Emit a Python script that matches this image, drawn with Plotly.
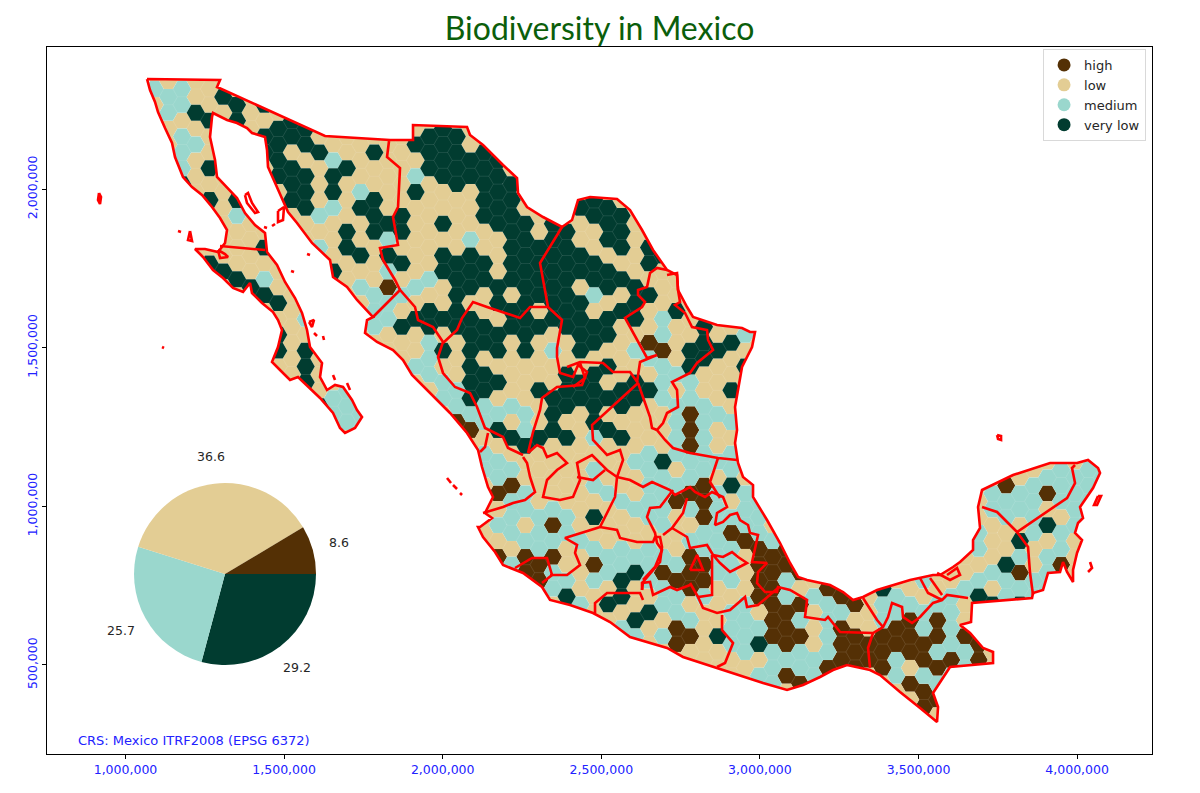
import math
import plotly.graph_objects as go

# hex cells per class: column -> rows (grid of 50 km hexagons), low is everything else on land
VERY_LOW = {1:[6], 2:[1], 3:[2,5,7,11], 4:[0,11], 5:[1,2,7,12], 6:[12], 7:[1,3,4,10,13], 8:[2,3,4,5,13,15,16],
    9:[2,3,5,6,7], 10:[2,3,5,6,7,16,17,18], 11:[4,20], 12:[5,6,11], 13:[5,9,10], 14:[7,10], 15:[4,7,8,9], 16:[8,10],
    17:[8,9,11,15], 18:[3,6,14], 19:[3,4,5,14,15], 20:[2,3,4,5,8,10,11,14,16], 21:[3,4,5,6,11,12,13,14,15],
    22:[4,5,10,11,12,14,15,16,17,18,19], 23:[4,5,6,7,8,11,12,15,16,18,19], 24:[4,5,6,7,8,12,13,15,16,18,21],
    25:[6,7,8,9,10,11,12,14,15,22], 26:[8,9,10,11,12,13,14,15,16,22], 27:[10,11,12,13,15,19,22],
    28:[8,9,10,11,12,13,14,19,20,21], 29:[9,10,11,12,13,14,15,18,19,20,22,32], 30:[7,10,11,13,14,15,16,18,19],
    31:[7,8,11,12,15,16,18,19,20,21,27], 32:[7,8,9,11,12,14,15,17,19,21,32], 33:[8,9,10,12,14,19,20,22,31,32],
    34:[12,13,14,18,19,30,33], 35:[10,11,13,19,33], 36:[10,23], 37:[14], 38:[16,17], 39:[15,16,17], 40:[16,34],
    41:[16,19,25], 42:[17], 43:[35], 52:[31], 59:[32], 60:[32], 61:[30], 62:[28,32], 64:[27]}
MEDIUM = {-1:[0], 0:[0,1], 1:[0,1,3,4,5], 2:[3], 5:[8], 7:[12], 10:[14], 11:[8,10], 12:[4,7,19,20], 13:[19,20,21],
    14:[6,12,20,21], 15:[13,14,15], 16:[9,11,13,14], 17:[13], 18:[5,12,17], 19:[12,16,17,18], 20:[18,19], 21:[19,20],
    22:[9,20], 23:[20,21,23,24], 24:[20,23,24,27], 25:[20,24,26,27,28,30], 26:[20,21,25,26,28], 27:[27,28,29],
    28:[16,26,28,30,31], 29:[27,28,31], 30:[28,32], 31:[13,22,24,25,29,31], 32:[25,29,30], 33:[26,29,30,34],
    34:[16,23,26,29,34], 35:[17,23,24,25,26,27,29,30,31], 36:[14,15,17,18,19,24,25,26,27,29,31,32,34],
    37:[18,20,21,22,23,25,30,32,33], 38:[18,19,23,24,26,28,33], 39:[20,21,22,23,24,28,29,32],
    40:[20,23,25,26,27,28,29,30], 41:[21,23,24,27,29,30,31,33,34,35], 42:[15,25,26,27,32,33,34,35],
    43:[24,25,26,27,28,34,37], 44:[28,35,36,37], 45:[31,32,36], 46:[33,35,36], 47:[32,36,37], 48:[32,33,34,35],
    49:[33], 52:[32,33], 53:[32,33,36,37], 54:[32], 55:[31,33,34,37], 56:[32,35,37], 57:[32,33,34,35,37],
    58:[31,35,36], 59:[28,29,31,34,37], 60:[25,26,30], 61:[26,27,31,32], 62:[25,26,29,31], 63:[25,26,27,28,31,32],
    64:[24,29,30,31], 65:[24,25,26,28,29,31], 66:[24,25,26,27], 67:[24,25,26,27], 68:[24,25,26]}
HIGH = {16:[12], 21:[21], 22:[21], 24:[25,29], 25:[25], 26:[29,30], 27:[30,31], 28:[27,29], 31:[30], 35:[16], 36:[16,30],
    37:[26,31,34,35], 38:[20,21,22,25,29,30,31,34], 39:[25,26,27,30,31], 41:[28], 42:[28], 43:[29,30,31,32],
    44:[29,30,31,32,33,34], 45:[29,30,33,34,35,37], 46:[30,32,34,37], 48:[31,36], 49:[32,34,35,36], 50:[32,34,35,36],
    51:[35,36], 52:[34,35,36], 53:[34,35], 54:[33,34,35,37], 55:[35,36,38,39], 56:[33,34,36,38], 57:[36], 58:[34],
    59:[35,36], 61:[25], 62:[30], 64:[25], 65:[30]}

CLASS_NAMES = ["high", "low", "medium", "very low"]
CLASS_COLORS = ["#543005", "#e3cd94", "#9ad7cd", "#013c30"]
PIE_VALUES = [8.6, 36.6, 25.7, 29.2]
X_TICKS = [1000000, 1500000, 2000000, 2500000, 3000000, 3500000, 4000000]
Y_TICKS = [500000, 1000000, 1500000, 2000000]

# outlines (sheet units), to_x / to_y below turn them into EPSG 6372 metres
COAST = [(147,79),(150,90),(155,102),(158,112),(165,128),(172,143),(175,157),(180,170),(183,177),(192,187),(202,195),
    (212,207),(220,218),(227,230),(225,243),(218,252),(205,249),(195,249),(203,257),(213,270),(223,278),(233,288),
    (243,292),(250,283),(252,293),(262,303),(273,312),(278,320),(282,330),(278,347),(272,362),(280,370),(290,380),
    (298,377),(310,388),(320,398),(333,413),(340,428),(345,433),(355,428),(362,417),(357,410),(352,400),(343,387),
    (335,385),(327,390),(320,377),(322,363),(310,347),(307,330),(302,313),(295,298),(285,282),(277,265),(267,252),
    (265,233),(255,225),(245,213),(237,198),(225,185),(217,177),(215,160),(210,137),(212,117),(213,113),(227,120),
    (237,123),(247,128),(252,133),(265,137),(267,150),(268,167),(277,187),(283,200),(288,212),(297,223),(312,243),
    (330,260),(333,277),(347,287),(357,300),(373,317),(367,320),(365,333),(377,342),(393,350),(403,360),(412,375),
    (430,393),(450,413),(467,433),(478,450),(482,467),(488,487),(493,497),(485,513),(492,518),(480,527),(478,527),
    (483,537),(495,552),(503,565),(523,573),(542,587),(550,600),(570,605),(593,613),(610,622),(630,637),(667,648),
    (683,657),(713,667),(737,675),(763,683),(787,690),(803,685),(820,677),(833,670),(847,665),(870,670),(880,675),
    (900,692),(920,708),(937,722),(938,707),(933,693),(950,667),(993,663),(993,652),(983,648),(970,633),(960,625),
    (971,622),(972,603),(1032,598),(1033,593),(1043,590),(1048,573),(1060,572),(1063,562),(1067,572),(1073,582),
    (1073,570),(1077,553),(1082,540),(1075,533),(1078,523),(1083,518),(1080,507),(1093,488),(1100,473),(1098,468),
    (1088,460),(1077,463),(1050,463),(1037,467),(1013,475),(982,490),(978,507),(980,528),(973,540),(973,550),
    (960,562),(953,567),(940,575),(933,575),(910,580),(877,590),(863,597),(853,600),(843,592),(830,585),(817,582),
    (807,580),(798,577),(790,563),(780,543),(767,520),(753,497),(753,485),(743,477),(738,463),(735,443),(737,430),
    (735,407),(742,367),(752,347),(755,332),(750,332),(742,328),(717,325),(693,317),(687,307),(678,290),(677,275),
    (667,270),(653,250),(642,230),(630,210),(617,199),(590,197),(578,200),(572,220),(562,227),(543,217),(527,207),
    (518,193),(517,178),(503,165),(483,145),(470,135),(467,127),(413,125),(413,140),(390,140),(325,136),(217,87),
    (220,80)]
BORDERS = [
    [(220,246),(265,250)],
    [(218,250),(225,254),(228,257),(220,258),(218,250)],
    [(389,141),(387,157),(400,168),(398,207),(393,217),(395,230),(398,245),(380,248),(383,260),(395,280),(400,290)],
    [(373,317),(380,310),(393,298),(400,290),(415,307),(418,320),(433,327),(443,342),(438,357),(443,373),(455,387),
     (470,393),(477,407),(485,428),(503,437),(508,448),(523,455)],
    [(488,433),(485,447),(480,452)],
    [(443,343),(457,330),(462,318),(473,302),(487,307),(503,312),(520,318),(530,307),(548,307),(562,320),(557,348),
     (557,357),(560,373),(573,377),(578,365),(587,372),(582,385),(557,387),(542,398),(540,410),(533,432),(528,453)],
    [(562,227),(540,263),(548,307)],
    [(667,270),(657,268),(650,273),(647,287),(638,290),(638,295),(645,302),(642,307),(625,318),(630,327),(640,345),
     (647,358),(657,355),(640,362),(637,382)],
    [(667,275),(677,273),(678,290),(680,302),(675,305),(685,313),(692,327),(707,330),(708,340),(713,350),(697,363),
     (690,373),(672,382),(677,390),(678,407),(667,413),(663,423),(657,430),(665,440),(673,448),(690,453),(718,458),(737,460)],
    [(638,383),(650,417),(652,428),(657,430)],
    [(638,383),(630,372),(613,372),(603,363),(580,362),(567,367)],
    [(580,363),(585,378),(573,387)],
    [(638,383),(592,425),(593,440),(607,455),(620,450),(623,460),(617,477),(615,497),(600,527)],
    [(528,453),(537,445),(543,448),(547,457),(557,453),(567,463),(557,470),(547,480),(543,497),(560,500),(573,497),
     (580,480),(577,463),(592,455),(607,470),(617,477)],
    [(577,477),(593,480),(605,470)],
    [(523,457),(527,463),(530,477),(535,492),(525,500),(513,503),(503,507),(483,513)],
    [(515,568),(532,558),(547,558),(552,575),(542,583)],
    [(550,575),(567,575),(580,565),(575,553),(577,545),(565,538),(597,528),(600,527),(617,530),(620,538),(637,542),
     (653,542),(655,537),(660,537),(662,547),(660,562),(643,582),(642,590)],
    [(595,613),(595,603),(607,593),(623,593),(640,593),(643,600)],
    [(642,590),(642,583),(650,582),(653,595),(670,587),(677,590),(690,585)],
    [(617,477),(630,480),(643,487),(652,482),(670,490),(675,495),(690,487),(695,492),(705,497),(712,492),(723,497),
     (727,507),(717,513),(715,525),(723,522),(730,515),(737,513),(740,520),(748,525),(750,533),(758,535),(755,550),
     (752,562),(767,563),(758,572),(757,583),(765,592),(777,592),(778,587),(790,590),(807,600),(805,617),(825,620),
     (828,617),(840,632),(873,633),(883,627),(888,617),(892,603),(902,607),(903,617),(912,623),(920,617),(933,603),
     (942,600),(947,595),(968,598)],
    [(718,458),(712,475),(710,482),(720,498)],
    [(673,490),(665,500),(660,507),(650,508),(647,517),(655,533),(657,543),(662,550),(655,567),(643,580)],
    [(687,498),(683,513),(672,528),(663,535)],
    [(672,528),(687,537),(690,548),(707,545),(713,555),(723,557),(732,552),(738,557),(747,563),(730,572),(720,563),(713,555)],
    [(712,555),(712,585),(712,595),(698,597),(693,588),(690,583)],
    [(690,570),(697,555),(703,570),(690,570)],
    [(698,597),(703,608),(717,613),(730,610),(745,597),(747,607),(758,605),(767,597),(778,588)],
    [(722,615),(722,630),(733,643),(725,663),(717,667)],
    [(863,598),(877,620),(883,627)],
    [(873,633),(868,648),(870,668)],
    [(920,578),(928,593),(942,600)],
    [(930,578),(942,595)],
    [(937,573),(950,580),(960,575),(957,568),(947,575)],
    [(982,507),(997,512),(1017,532),(1050,510),(1067,498),(1075,483),(1072,468),(1075,465)],
    [(1017,532),(1028,547),(1030,573),(1033,595)],
]
ISLANDS = [[(278,211),(284,207),(283,220),(278,222),(278,211)], [(245,195),(248,193),(252,203),(258,212),(255,213),(247,203),(245,195)],
    [(190,231),(192,241),(188,240),(190,231)], [(99,193),(101,197),(100,204),(98,200),(99,193)], [(997,435),(1001,436),(1001,440),(998,439),(997,435)],
    [(447,478),(451,483)], [(453,485),(457,489)], [(460,493),(462,495)], [(1098,496),(1101,496),(1097,505),(1094,505),(1098,496)],
    [(1090,562),(1092,568),(1088,572)], [(309,322),(314,320),(312,327),(309,322)], [(314,333),(317,336)], [(323,336),(324,340)],
    [(333,375),(335,380)], [(347,383),(350,390)], [(264,227),(267,228)], [(272,226),(275,224)], [(291,271),(294,272)],
    [(307,254),(310,255)], [(178,231),(181,232)], [(162,347),(164,348)]]

M_PER_UNIT = 3152.6
GRID_X0, GRID_Y0 = 1134900, 2291000
ROW_STEP = 50000
COL_STEP = ROW_STEP * math.sqrt(3) / 2
HEX_R = ROW_STEP / math.sqrt(3)
X_RANGE = [752500, 4236000]
Y_RANGE = [219400, 2448300]


def to_x(u):
    return 1000000 + (u - 125.5) * M_PER_UNIT


def to_y(v):
    return 500000 + (665 - v) * M_PER_UNIT


def hex_path(c, r):
    cx = GRID_X0 + c * COL_STEP
    cy = GRID_Y0 - r * ROW_STEP + (ROW_STEP / 2 if c % 2 else 0)
    xs = [cx + HEX_R * math.cos(math.radians(60 * k)) for k in range(7)]
    ys = [cy + HEX_R * math.sin(math.radians(60 * k)) for k in range(7)]
    return xs + [None], ys + [None]


def cells_trace(cells, color):
    xs, ys = [], []
    for c, r in cells:
        hx, hy = hex_path(c, r)
        xs += hx
        ys += hy
    return go.Scatter(x=xs, y=ys, mode="lines", fill="toself", fillcolor=color,
                      line=dict(color="rgba(255,255,255,0.12)", width=0.5),
                      hoverinfo="skip", showlegend=False)


def pairs(d):
    return {(c, r) for c, rows in d.items() for r in rows}


fig = go.Figure()

high, medium, very_low = pairs(HIGH), pairs(MEDIUM), pairs(VERY_LOW)
low = {(c, r) for c in range(-1, 70) for r in range(-1, 42)} - high - medium - very_low
for cells, color in zip([high, low, medium, very_low], CLASS_COLORS):
    fig.add_trace(cells_trace(sorted(cells), color))

# white mask outside the country, clips the hexagons at the coast
ring_x = [to_x(p[0]) for p in COAST]
ring_y = [to_y(p[1]) for p in COAST]
rect_x = [X_RANGE[0], X_RANGE[0], X_RANGE[1], X_RANGE[1], X_RANGE[0]]
rect_y = [Y_RANGE[1], Y_RANGE[0], Y_RANGE[0], Y_RANGE[1], Y_RANGE[1]]


def signed_area(xs, ys):
    return sum(a * d - c * b for a, b, c, d in zip(xs, ys, xs[1:] + xs[:1], ys[1:] + ys[:1]))


# rect has to wind the other way from the ring
if signed_area(rect_x, rect_y) * signed_area(ring_x, ring_y) > 0:
    rect_x, rect_y = rect_x[::-1], rect_y[::-1]
fig.add_trace(go.Scatter(x=rect_x + ring_x + ring_x[:1] + rect_x[:1], y=rect_y + ring_y + ring_y[:1] + rect_y[:1],
                         mode="lines", fill="toself", fillcolor="white", line=dict(width=0, color="white"),
                         hoverinfo="skip", showlegend=False))

line_x, line_y = [], []
for part in [COAST + COAST[:1]] + BORDERS + ISLANDS:
    line_x += [to_x(p[0]) for p in part] + [None]
    line_y += [to_y(p[1]) for p in part] + [None]
fig.add_trace(go.Scatter(x=line_x, y=line_y, mode="lines", line=dict(color="red", width=2.6),
                         hoverinfo="skip", showlegend=False))

for name, color in zip(CLASS_NAMES, CLASS_COLORS):
    fig.add_trace(go.Scatter(x=[None], y=[None], mode="markers", name=name,
                             marker=dict(color=color, size=13)))

# pie, same inset as the map sheet
PLOT_W, PLOT_H = 1105, 707
pie_cx, pie_cy, pie_r = 0.1611, 0.2546, 91
fig.add_trace(go.Pie(values=PIE_VALUES[::-1], labels=CLASS_NAMES[::-1], sort=False, direction="clockwise", rotation=90,
                     marker=dict(colors=CLASS_COLORS[::-1], line=dict(width=0)), textinfo="none", hoverinfo="skip",
                     showlegend=False,
                     domain=dict(x=[pie_cx - pie_r / PLOT_W, pie_cx + pie_r / PLOT_W],
                                 y=[pie_cy - pie_r / PLOT_H, pie_cy + pie_r / PLOT_H])))

annotations = []
start = 0
for v in PIE_VALUES:
    ang = 2 * math.pi * (start + v / 2) / sum(PIE_VALUES)
    start += v
    annotations.append(dict(x=pie_cx + 1.3 * pie_r * math.cos(ang) / PLOT_W,
                            y=pie_cy + 1.3 * pie_r * math.sin(ang) / PLOT_H,
                            xref="paper", yref="paper", xanchor="center", yanchor="middle", text=str(v), showarrow=False,
                            font=dict(family="DejaVu Sans", size=12.5, color="#262626")))
annotations.append(dict(x=to_x(76), y=to_y(741), xref="x", yref="y", xanchor="left", text="CRS: Mexico ITRF2008 (EPSG 6372)",
                        showarrow=False, font=dict(family="DejaVu Sans", size=13, color="#2222ff")))

# the page body adds 8 px on the top and left, so the figure is 8 px short of the window
fig.update_layout(
    width=1192, height=785, margin=dict(l=39, r=48, t=39, b=39),
    paper_bgcolor="white", plot_bgcolor="white",
    title=dict(text="Biodiversity in Mexico", x=0.5, xanchor="center", xref="paper", y=0.974, yanchor="middle",
               font=dict(family="Comic Sans MS, Lato, sans-serif", size=32, color="#0b5e0b")),
    legend=dict(x=0.9014, y=0.9972, xanchor="left", yanchor="top", bgcolor="white", bordercolor="#d9d9d9", borderwidth=1,
                font=dict(family="DejaVu Sans", size=13, color="#262626"), itemclick=False, itemdoubleclick=False),
    annotations=annotations,
)
fig.update_xaxes(range=X_RANGE, tickvals=X_TICKS, tickformat=",", showgrid=False, zeroline=False, ticks="outside", ticklen=4,
                 tickcolor="black", showline=True, linecolor="black", mirror=True,
                 tickfont=dict(family="DejaVu Sans", size=12.5, color="#2222ff"))
fig.update_yaxes(range=Y_RANGE, tickvals=Y_TICKS, tickformat=",", tickangle=-90, showgrid=False, zeroline=False, ticks="outside",
                 ticklen=4, tickcolor="black", showline=True, linecolor="black", mirror=True,
                 tickfont=dict(family="DejaVu Sans", size=12.5, color="#2222ff"))

fig.write_html("out.html")
